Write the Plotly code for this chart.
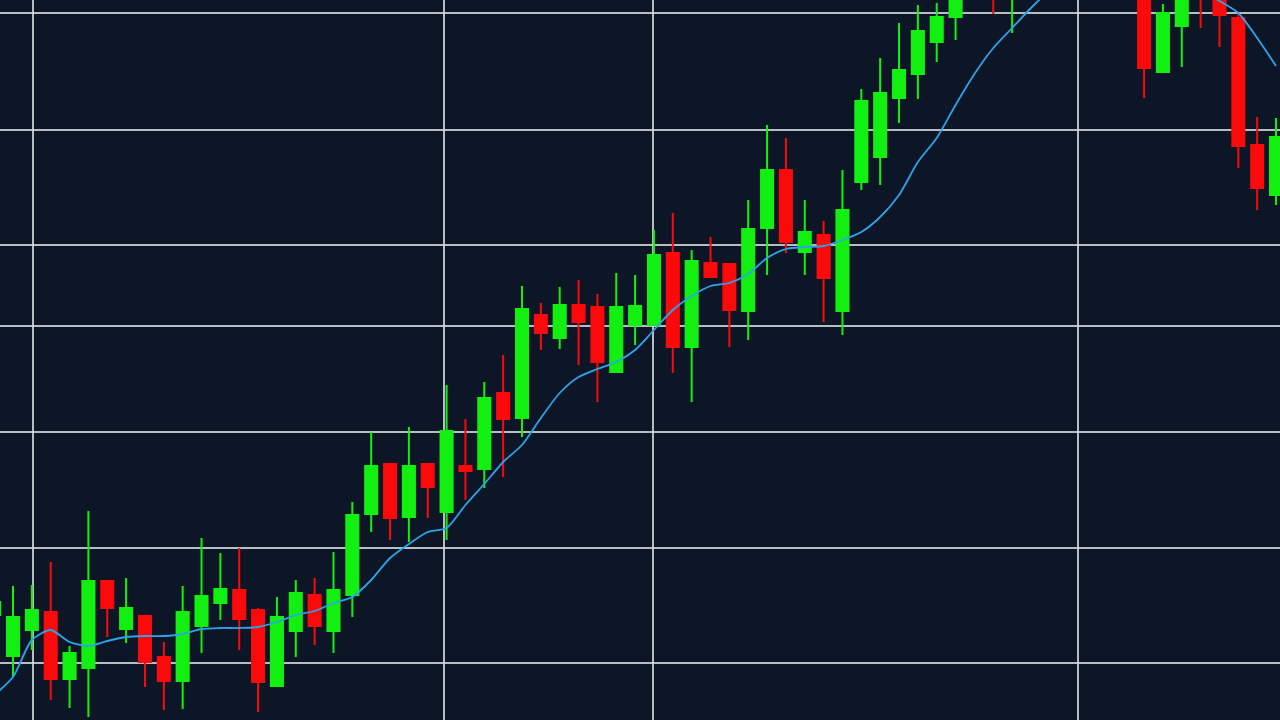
import plotly.graph_objects as go

# session numbers (index of trading session)
session = list(range(0, 69))

open_ = [105, 64, 90, 108, 41, 52, 139, 91, 104, 63, 39, 94, 117, 130, 110, 34, 89, 125, 89, 125,
         206, 256, 203, 256, 208, 254, 251, 327, 302, 405, 382, 415, 413, 348, 395, 395, 467, 373, 457, 456,
         409, 492, 550, 468, 485, 409, 538, 563, 622, 646, 678, 703, 735, 760, 728, 760, 780, 795, 785, 770,
         755, 740, 648, 694, 760, 735, 702, 575, 525]
high = [125, 134, 135, 158, 74, 209, 139, 142, 104, 78, 134, 182, 167, 172, 112, 123, 140, 142, 168, 218,
        288, 256, 293, 256, 335, 301, 338, 365, 434, 417, 433, 440, 426, 447, 445, 490, 507, 470, 483, 456,
        520, 595, 582, 520, 499, 550, 631, 662, 697, 715, 717, 740, 760, 775, 770, 790, 805, 815, 800, 790,
        770, 750, 716, 745, 765, 740, 706, 603, 602]
low = [95, 43, 70, 20, 12, 3, 83, 77, 33, 10, 11, 67, 100, 70, 8, 34, 63, 75, 67, 103,
       188, 180, 178, 202, 180, 220, 232, 243, 283, 370, 371, 355, 318, 348, 375, 394, 347, 318, 442, 373,
       380, 445, 467, 445, 398, 385, 530, 535, 597, 621, 658, 680, 725, 706, 687, 745, 770, 775, 760, 745,
       735, 622, 648, 653, 692, 673, 552, 510, 515]
close = [118, 103, 110, 41, 67, 139, 112, 112, 58, 39, 108, 124, 131, 101, 38, 103, 127, 94, 130, 205,
         254, 202, 254, 233, 289, 249, 322, 301, 411, 387, 415, 398, 358, 413, 414, 465, 373, 459, 443, 410,
         491, 550, 478, 488, 442, 510, 619, 627, 650, 689, 703, 728, 750, 735, 760, 780, 795, 785, 770, 755,
         745, 652, 707, 735, 725, 705, 574, 532, 583]

moving_avg = [25, 43, 80, 90, 78, 74, 79, 83, 84, 84, 86, 91, 92, 92, 93, 98, 105, 109, 117, 123,
              140, 162, 176, 188, 192, 215, 236, 258, 275, 302, 327, 343, 351, 358, 370, 390, 410, 424, 434, 437,
              446, 462, 471, 473, 474, 480, 488, 503, 525, 558, 582, 615, 646, 672, 692, 712, 730, 745, 752, 752,
              745, 740, 736, 733, 728, 719, 707, 682, 654]

x_grid = [2.061, 23.865, 34.952, 57.499]
y_grid = [707, 590, 475, 394, 288, 172, 57]

GREEN = "#12f012"
RED = "#fa0a0a"
BG = "#0d1626"
GRID = "rgba(215,218,222,0.85)"

fig = go.Figure()
fig.add_trace(go.Scatter(
    x=session, y=moving_avg, mode="lines",
    line=dict(color="#2ba4ea", width=1.8, shape="spline", smoothing=0.7),
    hoverinfo="skip",
))
fig.add_trace(go.Candlestick(
    x=session, open=open_, high=high, low=low, close=close,
    increasing=dict(line=dict(color=GREEN, width=2), fillcolor=GREEN),
    decreasing=dict(line=dict(color=RED, width=2), fillcolor=RED),
))

fig.update_layout(
    width=1280, height=720,
    margin=dict(l=0, r=0, t=0, b=0),
    paper_bgcolor=BG, plot_bgcolor=BG,
    showlegend=False,
    boxgap=0.2, boxgroupgap=0.2,
    xaxis=dict(range=[0.31, 68.21], tickvals=x_grid, showticklabels=False,
               showgrid=True, gridcolor=GRID, gridwidth=2, zeroline=False,
               showline=False, ticks="", rangeslider=dict(visible=False), fixedrange=True),
    yaxis=dict(range=[0, 720], tickvals=y_grid, showticklabels=False,
               showgrid=True, gridcolor=GRID, gridwidth=2, zeroline=False,
               showline=False, ticks="", fixedrange=True),
)

fig.write_html("out.html", config={"displayModeBar": False},
               post_script="document.body.style.margin='0';document.body.style.overflow='hidden';")
